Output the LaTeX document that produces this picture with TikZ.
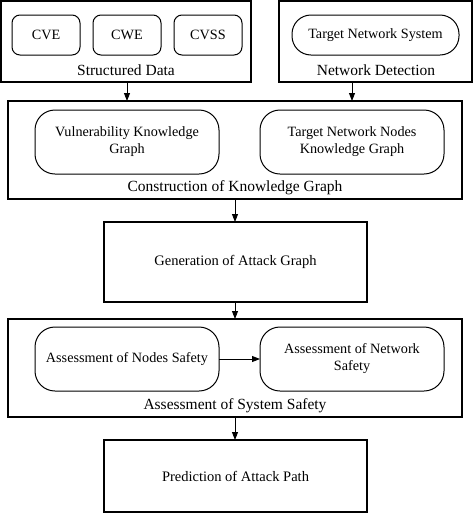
\documentclass[tikz,border=0pt]{standalone}
\usepackage{fontspec}
\setmainfont{Liberation Serif}
\usetikzlibrary{arrows.meta}
\begin{document}
\begin{tikzpicture}[x=1pt,y=-1pt,
 outer/.style={draw,line width=1.4pt,inner sep=0pt,outer sep=0pt,rectangle},
 smallbox/.style={draw,line width=1pt,rounded corners=8pt,inner sep=0pt,outer sep=0pt,font=\fontsize{14.2}{16}\selectfont},
 bigbox/.style={draw,line width=1pt,rounded corners=20pt,inner sep=0pt,outer sep=0pt,align=center,font=\fontsize{14.2}{17}\selectfont},
 lbl/.style={font=\fontsize{15.5}{18}\selectfont,inner sep=0pt},
 arr/.style={-{Triangle[length=8pt,width=6pt]},line width=0.9pt}]
\useasboundingbox (0,0) rectangle (474,515);
% top containers
\node[outer,minimum width=250pt,minimum height=81pt] (sd) at (126,41.5) {};
\node[outer,minimum width=193pt,minimum height=81pt] (nd) at (375.5,41.5) {};
\node[smallbox,minimum width=68pt,minimum height=40pt] (cve) at (46,35) {CVE};
\node[smallbox,minimum width=68pt,minimum height=40pt] (cwe) at (127,35) {CWE};
\node[smallbox,minimum width=68pt,minimum height=40pt] (cvss) at (208,35) {CVSS};
\node[smallbox,rounded corners=19pt,minimum width=167pt,minimum height=40pt] (tns) at (375.5,35) {Target Network System};
\node[lbl] (sdl) at (126,70) {Structured Data};
\node[lbl] (ndl) at (376,70) {Network Detection};
% knowledge graph
\node[outer,minimum width=454pt,minimum height=98pt] (kg) at (235,150) {};
\node[bigbox,minimum width=184pt,minimum height=64pt] (vkg) at (127,142) {Vulnerability Knowledge\\Graph};
\node[bigbox,minimum width=184pt,minimum height=64pt] (tkg) at (352,142) {Target Network Nodes\\Knowledge Graph};
\node[lbl] (kgl) at (235,188) {Construction of Knowledge Graph};
% generation
\node[outer,minimum width=263pt,minimum height=80pt,font=\fontsize{14.5}{17}\selectfont] (gen) at (235.5,262) {Generation of Attack Graph};
% assessment
\node[outer,minimum width=454pt,minimum height=98pt] (as) at (235,368) {};
\node[bigbox,minimum width=184pt,minimum height=64pt] (ns) at (127,359) {Assessment of Nodes Safety};
\node[bigbox,minimum width=184pt,minimum height=64pt] (nws) at (352,359) {Assessment of Network\\Safety};
\node[lbl] (asl) at (235,406) {Assessment of System Safety};
% prediction
\node[outer,minimum width=263pt,minimum height=72pt,font=\fontsize{14.5}{17}\selectfont] (pr) at (235.5,476) {Prediction of Attack Path};
% arrows
\draw[arr] (vkg.north |- sd.south) -- (vkg.north |- kg.north);
\draw[arr] (tkg.north |- nd.south) -- (tkg.north |- kg.north);
\draw[arr] (kg.south) -- (kg.south |- gen.north);
\draw[arr] (kg.south |- gen.south) -- (as.north);
\draw[arr] (ns.east) -- (nws.west);
\draw[arr] (as.south) -- (as.south |- pr.north);
\end{tikzpicture}
\end{document}
